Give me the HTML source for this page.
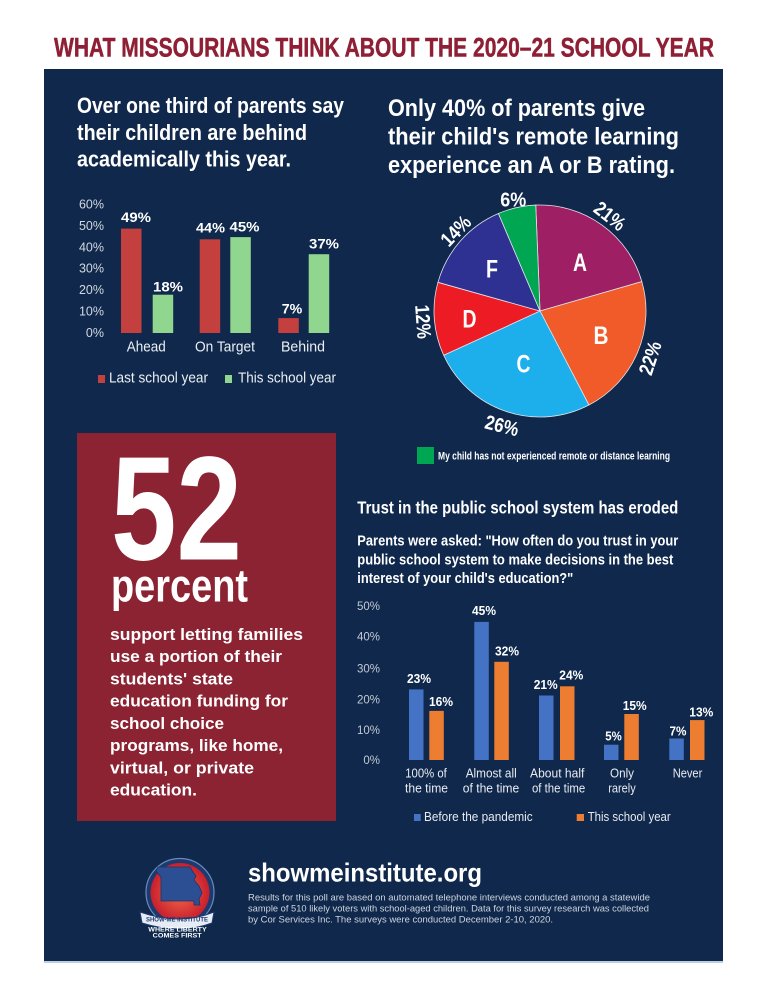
<!DOCTYPE html>
<html>
<head>
<meta charset="utf-8">
<style>
  html, body { margin: 0; padding: 0; background: #ffffff; }
  svg { display: block; }
  text { font-family: "Liberation Sans", sans-serif; }
</style>
</head>
<body>
<svg width="768" height="994" viewBox="0 0 768 994" xmlns="http://www.w3.org/2000/svg">
  <defs>
    <radialGradient id="rg" cx="50%" cy="50%" r="50%">
      <stop offset="0%" stop-color="#f46a4a"/>
      <stop offset="100%" stop-color="#c81f2d"/>
    </radialGradient>
  </defs>
  <rect x="0" y="0" width="768" height="994" fill="#ffffff"/>

  <!-- Title -->
  <text x="54" y="56.5" font-size="27" font-weight="bold" fill="#8e1f34" stroke="#8e1f34" stroke-width="0.5" textLength="660" lengthAdjust="spacingAndGlyphs">WHAT MISSOURIANS THINK ABOUT THE 2020–21 SCHOOL YEAR</text>

  <!-- Navy panel -->
  <rect x="44" y="69" width="679" height="892" fill="#0f284c"/>
  <rect x="44" y="961" width="679" height="2" fill="#bcd0e3"/>

  <!-- Left headline -->
  <g fill="#ffffff" font-size="22" font-weight="bold">
    <text x="77" y="113" textLength="267" lengthAdjust="spacingAndGlyphs">Over one third of parents say</text>
    <text x="77" y="140" textLength="230" lengthAdjust="spacingAndGlyphs">their children are behind</text>
    <text x="77" y="166.5" textLength="214" lengthAdjust="spacingAndGlyphs">academically this year.</text>
  </g>

  <!-- Right headline -->
  <g fill="#ffffff" font-size="24" font-weight="bold">
    <text x="388" y="116" textLength="257" lengthAdjust="spacingAndGlyphs">Only 40% of parents give</text>
    <text x="388" y="144.5" textLength="291" lengthAdjust="spacingAndGlyphs">their child's remote learning</text>
    <text x="388" y="173" textLength="287" lengthAdjust="spacingAndGlyphs">experience an A or B rating.</text>
  </g>

  <!-- Left bar chart: ticks -->
  <g fill="#d3d8e0" font-size="12.5" text-anchor="end">
    <text x="104" y="208.5">60%</text>
    <text x="104" y="230">50%</text>
    <text x="104" y="251.5">40%</text>
    <text x="104" y="272.5">30%</text>
    <text x="104" y="294">20%</text>
    <text x="104" y="315.5">10%</text>
    <text x="104" y="337">0%</text>
  </g>
  <!-- bars -->
  <g>
    <rect x="121" y="228.6" width="20.5" height="104.4" fill="#c4403f"/>
    <rect x="152.7" y="294.7" width="20.5" height="38.3" fill="#90d68e"/>
    <rect x="199.7" y="239.3" width="20.5" height="93.7" fill="#c4403f"/>
    <rect x="230.3" y="237.1" width="20.5" height="95.9" fill="#90d68e"/>
    <rect x="278.3" y="318.1" width="20.5" height="14.9" fill="#c4403f"/>
    <rect x="308.7" y="254.2" width="20.5" height="78.8" fill="#90d68e"/>
  </g>
  <g fill="#ffffff" font-size="13.5" font-weight="bold" text-anchor="middle">
    <text x="136" y="222" textLength="30" lengthAdjust="spacingAndGlyphs">49%</text>
    <text x="168" y="291.5" textLength="30" lengthAdjust="spacingAndGlyphs">18%</text>
    <text x="210.5" y="232.3" textLength="29" lengthAdjust="spacingAndGlyphs">44%</text>
    <text x="244.5" y="231.7" textLength="30" lengthAdjust="spacingAndGlyphs">45%</text>
    <text x="292" y="313.3" textLength="20.5" lengthAdjust="spacingAndGlyphs">7%</text>
    <text x="324" y="248.3" textLength="30" lengthAdjust="spacingAndGlyphs">37%</text>
  </g>
  <g fill="#eceff3" font-size="14.5" text-anchor="middle">
    <text x="146.3" y="351.7" textLength="39" lengthAdjust="spacingAndGlyphs">Ahead</text>
    <text x="225" y="351.7" textLength="60" lengthAdjust="spacingAndGlyphs">On Target</text>
    <text x="303" y="351.7" textLength="44" lengthAdjust="spacingAndGlyphs">Behind</text>
  </g>
  <!-- legend -->
  <rect x="98" y="375" width="7" height="8" fill="#c4403f"/>
  <text x="109" y="382.7" font-size="14.5" fill="#eceff3" textLength="99" lengthAdjust="spacingAndGlyphs">Last school year</text>
  <rect x="225" y="375" width="7" height="8" fill="#90d68e"/>
  <text x="238" y="382.7" font-size="14.5" fill="#eceff3" textLength="98" lengthAdjust="spacingAndGlyphs">This school year</text>

  <!-- Pie chart -->
  <g stroke="#dfe4ec" stroke-width="0.8" stroke-linejoin="round">
    <path d="M540,311 L535.75,205.08 A106,106 0 0 1 641.84,281.60 Z" fill="#9e1f63"/>
    <path d="M540,311 L641.84,281.60 A106,106 0 0 1 588.94,405.02 Z" fill="#f15a29"/>
    <path d="M540,311 L588.94,405.02 A106,106 0 0 1 443.70,355.30 Z" fill="#1cafec"/>
    <path d="M540,311 L443.70,355.30 A106,106 0 0 1 437.95,282.32 Z" fill="#ed1c24"/>
    <path d="M540,311 L437.95,282.32 A106,106 0 0 1 498.42,213.50 Z" fill="#2e3192"/>
    <path d="M540,311 L498.42,213.50 A106,106 0 0 1 535.75,205.08 Z" fill="#00a651"/>
  </g>
  <g fill="#ffffff" font-size="25" font-weight="bold" text-anchor="middle">
    <text x="580" y="271" textLength="14" lengthAdjust="spacingAndGlyphs">A</text>
    <text x="601" y="344" textLength="15" lengthAdjust="spacingAndGlyphs">B</text>
    <text x="523.5" y="372.5" textLength="14" lengthAdjust="spacingAndGlyphs">C</text>
    <text x="469.5" y="327.5" textLength="14" lengthAdjust="spacingAndGlyphs">D</text>
    <text x="492" y="277.5" textLength="12" lengthAdjust="spacingAndGlyphs">F</text>
  </g>
  <g fill="#ffffff" font-size="20" font-weight="bold" text-anchor="middle">
    <text x="513.3" y="206.5" textLength="26" lengthAdjust="spacingAndGlyphs">6%</text>
    <text transform="translate(610,216) rotate(38)" x="0" y="7" textLength="34" lengthAdjust="spacingAndGlyphs">21%</text>
    <text transform="translate(650,358) rotate(-72)" x="0" y="7" textLength="34" lengthAdjust="spacingAndGlyphs">22%</text>
    <text transform="translate(502,425.5) rotate(14)" x="0" y="7" textLength="34" lengthAdjust="spacingAndGlyphs">26%</text>
    <text transform="translate(423.3,321.7) rotate(86)" x="0" y="7" textLength="34" lengthAdjust="spacingAndGlyphs">12%</text>
    <text transform="translate(455.7,230.7) rotate(-46)" x="0" y="7" textLength="34" lengthAdjust="spacingAndGlyphs">14%</text>
  </g>
  <!-- pie legend -->
  <rect x="417" y="447" width="17" height="17" fill="#00a651"/>
  <text x="438" y="459.5" font-size="11" font-weight="bold" fill="#ffffff" textLength="232" lengthAdjust="spacingAndGlyphs">My child has not experienced remote or distance learning</text>

  <!-- Red box -->
  <rect x="77" y="433" width="259" height="388" fill="#8b2332"/>
  <text x="111" y="559.5" font-size="148" font-weight="bold" fill="#ffffff" textLength="131" lengthAdjust="spacingAndGlyphs">52</text>
  <text x="111" y="601.5" font-size="46" font-weight="bold" fill="#ffffff" textLength="137" lengthAdjust="spacingAndGlyphs">percent</text>
  <g fill="#ffffff" font-size="17" font-weight="bold">
    <text x="110" y="640" textLength="193" lengthAdjust="spacingAndGlyphs">support letting families</text>
    <text x="110" y="662" textLength="172" lengthAdjust="spacingAndGlyphs">use a portion of their</text>
    <text x="110" y="684.3" textLength="123" lengthAdjust="spacingAndGlyphs">students' state</text>
    <text x="110" y="706.7" textLength="178" lengthAdjust="spacingAndGlyphs">education funding for</text>
    <text x="110" y="729" textLength="114" lengthAdjust="spacingAndGlyphs">school choice</text>
    <text x="110" y="751" textLength="173" lengthAdjust="spacingAndGlyphs">programs, like home,</text>
    <text x="110" y="773.3" textLength="144" lengthAdjust="spacingAndGlyphs">virtual, or private</text>
    <text x="110" y="795.7" textLength="87" lengthAdjust="spacingAndGlyphs">education.</text>
  </g>

  <!-- Trust section -->
  <text x="357.3" y="513.3" font-size="17.5" font-weight="bold" fill="#ffffff" textLength="321" lengthAdjust="spacingAndGlyphs">Trust in the public school system has eroded</text>
  <g fill="#ffffff" font-size="14.5" font-weight="bold">
    <text x="357.3" y="545.5" textLength="321" lengthAdjust="spacingAndGlyphs">Parents were asked: "How often do you trust in your</text>
    <text x="357.3" y="564.5" textLength="316" lengthAdjust="spacingAndGlyphs">public school system to make decisions in the best</text>
    <text x="357.3" y="583" textLength="216" lengthAdjust="spacingAndGlyphs">interest of your child's education?"</text>
  </g>

  <!-- Right bar chart ticks -->
  <g fill="#c3cad5" font-size="11.5" text-anchor="end">
    <text x="380" y="610">50%</text>
    <text x="380" y="640.7">40%</text>
    <text x="380" y="672.3">30%</text>
    <text x="380" y="703.3">20%</text>
    <text x="380" y="734">10%</text>
    <text x="380" y="764">0%</text>
  </g>
  <!-- bars -->
  <g fill="#4472c4">
    <rect x="409" y="689.4" width="14.5" height="70.6"/>
    <rect x="474.3" y="621.9" width="14.5" height="138.1"/>
    <rect x="539" y="695.5" width="14.5" height="64.5"/>
    <rect x="604" y="744.7" width="14.5" height="15.3"/>
    <rect x="669.3" y="738.5" width="14.5" height="21.5"/>
  </g>
  <g fill="#ed7d31">
    <rect x="429.3" y="710.9" width="14.5" height="49.1"/>
    <rect x="494.3" y="661.8" width="14.5" height="98.2"/>
    <rect x="560" y="686.3" width="14.5" height="73.7"/>
    <rect x="624.3" y="714" width="14.5" height="46"/>
    <rect x="690" y="720.1" width="14.5" height="39.9"/>
  </g>
  <g fill="#ffffff" font-size="12.5" font-weight="bold" text-anchor="middle">
    <text x="419" y="683" textLength="24" lengthAdjust="spacingAndGlyphs">23%</text>
    <text x="441" y="706" textLength="24" lengthAdjust="spacingAndGlyphs">16%</text>
    <text x="484" y="615" textLength="24" lengthAdjust="spacingAndGlyphs">45%</text>
    <text x="507" y="655.5" textLength="24" lengthAdjust="spacingAndGlyphs">32%</text>
    <text x="545.7" y="689" textLength="24" lengthAdjust="spacingAndGlyphs">21%</text>
    <text x="571.3" y="679.3" textLength="24" lengthAdjust="spacingAndGlyphs">24%</text>
    <text x="613.5" y="740.5" textLength="16.5" lengthAdjust="spacingAndGlyphs">5%</text>
    <text x="634.7" y="710" textLength="24" lengthAdjust="spacingAndGlyphs">15%</text>
    <text x="678" y="735.7" textLength="17" lengthAdjust="spacingAndGlyphs">7%</text>
    <text x="701.3" y="716.5" textLength="24" lengthAdjust="spacingAndGlyphs">13%</text>
  </g>
  <g fill="#e8ebf0" font-size="12.5" text-anchor="middle">
    <text x="426" y="777.3" textLength="41.5" lengthAdjust="spacingAndGlyphs">100% of</text>
    <text x="426.5" y="792.3" textLength="43" lengthAdjust="spacingAndGlyphs">the time</text>
    <text x="491.2" y="777.3" textLength="51" lengthAdjust="spacingAndGlyphs">Almost all</text>
    <text x="491" y="792.3" textLength="56.5" lengthAdjust="spacingAndGlyphs">of the time</text>
    <text x="557.2" y="777.3" textLength="54.3" lengthAdjust="spacingAndGlyphs">About half</text>
    <text x="558.6" y="792.3" textLength="53.3" lengthAdjust="spacingAndGlyphs">of the time</text>
    <text x="622" y="777.3" textLength="24" lengthAdjust="spacingAndGlyphs">Only</text>
    <text x="622" y="792.3" textLength="27.5" lengthAdjust="spacingAndGlyphs">rarely</text>
    <text x="687.5" y="777.3" textLength="29.6" lengthAdjust="spacingAndGlyphs">Never</text>
  </g>
  <!-- legend -->
  <rect x="414" y="814" width="6.7" height="7" fill="#4472c4"/>
  <text x="424" y="821" font-size="12.5" fill="#e8ebf0" textLength="108.7" lengthAdjust="spacingAndGlyphs">Before the pandemic</text>
  <rect x="576.7" y="814" width="7.3" height="7" fill="#ed7d31"/>
  <text x="587.7" y="821" font-size="12.5" fill="#e8ebf0" textLength="83" lengthAdjust="spacingAndGlyphs">This school year</text>

  <!-- Logo -->
  <circle cx="180" cy="892.5" r="34" fill="#1b3a6f" stroke="#6a89bb" stroke-width="1.2"/>
  <circle cx="180" cy="892.5" r="29.5" fill="url(#rg)"/>
  <path d="M158,867 L190,867 L193,872 L196,876 L194,880 L199,886 L202,893 L199,899 L200,905 L194,905 L194,901 L161,901 L161,877 L156,871 Z" fill="#2c4f94" stroke="#1a3566" stroke-width="0.8"/>
  <path d="M140,912 Q180,926 214,912 L212,923 Q180,935 142,923 Z" fill="#e6ecf5" stroke="#1d3a6e" stroke-width="1"/>
  <text x="177" y="921.5" font-size="6.5" font-weight="bold" fill="#1d3a6e" text-anchor="middle" textLength="62" lengthAdjust="spacingAndGlyphs">SHOW-ME INSTITUTE</text>
  <text x="148.3" y="931.7" font-size="6.5" font-weight="bold" fill="#ffffff" textLength="58.4" lengthAdjust="spacingAndGlyphs">WHERE LIBERTY</text>
  <text x="152.7" y="937.6" font-size="6.5" font-weight="bold" fill="#ffffff" textLength="49" lengthAdjust="spacingAndGlyphs">COMES FIRST</text>

  <!-- Footer -->
  <text x="248" y="881.7" font-size="26" font-weight="bold" fill="#ffffff" textLength="234" lengthAdjust="spacingAndGlyphs">showmeinstitute.org</text>
  <g fill="#cfd5de" font-size="9.5">
    <text x="248" y="900.5" textLength="402" lengthAdjust="spacingAndGlyphs">Results for this poll are based on automated telephone interviews conducted among a statewide</text>
    <text x="248" y="911.5" textLength="401" lengthAdjust="spacingAndGlyphs">sample of 510 likely voters with school-aged children. Data for this survey research was collected</text>
    <text x="248" y="922.7" textLength="305" lengthAdjust="spacingAndGlyphs">by Cor Services Inc. The surveys were conducted December 2-10, 2020.</text>
  </g>
</svg>
</body>
</html>
